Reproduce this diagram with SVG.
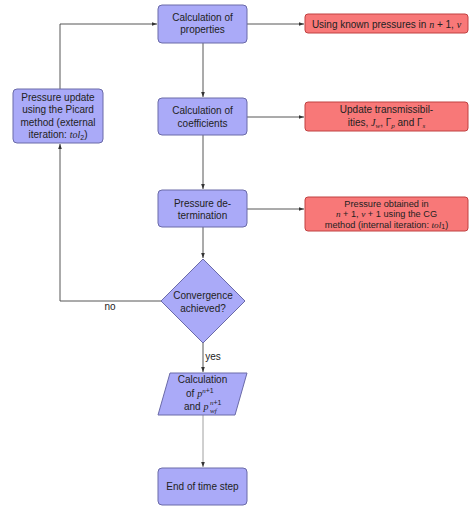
<svg xmlns="http://www.w3.org/2000/svg" width="474" height="512" viewBox="0 0 474 512">
<defs>
<marker id="ah" viewBox="0 0 6 6" refX="6" refY="3" markerWidth="5" markerHeight="5" orient="auto" markerUnits="userSpaceOnUse">
<path d="M0,0.8 L6,3 L0,5.2 Z" fill="#333"/>
</marker>
<style>
.b{fill:#aaaaf8;stroke:#6a6aa8;stroke-width:1}
.r{fill:#f87878;stroke:#c04040;stroke-width:1}
text{font-family:"Liberation Sans",Arial,sans-serif;font-size:10px;fill:#222;text-anchor:middle}
.l{text-anchor:start}
.t{font-size:9.2px}
.m{font-family:"Liberation Serif","Times New Roman",serif;font-style:italic}
.s{font-size:7px}
.c{fill:none;stroke:#444;stroke-width:0.9}
.g{fill:none;stroke:#888;stroke-width:0.8}
</style>
</defs>
<rect width="474" height="512" fill="#fff"/>
<g id="connectors">
<path class="c" d="M203,43 V97" marker-end="url(#ah)"/>
<path class="c" d="M203,135 V189" marker-end="url(#ah)"/>
<path class="c" d="M203,227 V258" marker-end="url(#ah)"/>
<path class="c" d="M203,343 V372" marker-end="url(#ah)"/>
<path class="g" d="M203,415 V467" marker-end="url(#ah)"/>
<path class="c" d="M247,24 H304" marker-end="url(#ah)"/>
<path class="c" d="M247,117 H304" marker-end="url(#ah)"/>
<path class="c" d="M247,209 H304" marker-end="url(#ah)"/>
<path class="c" d="M161,301 H60 V144" marker-end="url(#ah)"/>
<path class="c" d="M60,89 V24 H157" marker-end="url(#ah)"/>
<text x="110" y="310">no</text>
<text x="213" y="360">yes</text>
</g>
<g id="n-properties">
<rect class="b" x="158" y="5" width="89" height="38" rx="4"/>
<text x="202.5" y="20.5">Calculation of</text>
<text x="202.5" y="33">properties</text>
</g>
<g id="n-known">
<rect class="r" x="305" y="14" width="163" height="19" rx="3"/>
<text x="386.5" y="27.5">Using known pressures in <tspan class="m">n</tspan> + 1, <tspan class="m">v</tspan></text>
</g>
<g id="n-coefficients">
<rect class="b" x="158" y="98" width="89" height="37" rx="4"/>
<text x="202.5" y="114">Calculation of</text>
<text x="202.5" y="126.5">coefficients</text>
</g>
<g id="n-transmiss">
<rect class="r" x="305" y="102" width="163" height="29" rx="3"/>
<text x="386.5" y="113">Update transmissibil-</text>
<text x="386.5" y="125.5">ities, <tspan class="m">J</tspan><tspan class="m s" dy="2">w</tspan><tspan dy="-2">, Γ</tspan><tspan class="m s" dy="2">p</tspan><tspan dy="-2"> and Γ</tspan><tspan class="m s" dy="2">s</tspan></text>
</g>
<g id="n-pressure">
<rect class="b" x="158" y="190" width="89" height="37" rx="4"/>
<text x="202.5" y="206.5">Pressure de-</text>
<text x="202.5" y="218.5">termination</text>
</g>
<g id="n-cg">
<rect class="r" x="305" y="197" width="163" height="34" rx="3"/>
<text class="t" x="386.5" y="206.5">Pressure obtained in</text>
<text class="t" x="386.5" y="217.3"><tspan class="m">n</tspan> + 1, <tspan class="m">v</tspan> + 1 using the CG</text>
<text class="t" x="386.5" y="228">method (internal iteration: <tspan class="m">tol</tspan><tspan class="s" dy="1">1</tspan><tspan dy="-1">)</tspan></text>
</g>
<g id="n-picard">
<rect class="b" x="13" y="89" width="90" height="54" rx="4"/>
<text x="58" y="100.5">Pressure update</text>
<text x="58" y="113">using the Picard</text>
<text x="58" y="125.5">method (external</text>
<text x="58" y="138">iteration: <tspan class="m">tol</tspan><tspan class="s" dy="2">2</tspan><tspan dy="-2">)</tspan></text>
</g>
<g id="n-convergence">
<polygon class="b" points="203,259 245,301 203,343 161,301"/>
<text x="203" y="299">Convergence</text>
<text x="203" y="312">achieved?</text>
</g>
<g id="n-calcp">
<polygon class="b" points="170,373 247,373 235,415 158,415"/>
<text x="202.5" y="382.5">Calculation</text>
<text class="l" x="186" y="396.5">of <tspan class="m">p</tspan><tspan class="m s" dy="-4">n</tspan><tspan class="s">+1</tspan></text>
<text class="l" x="184" y="410">and <tspan class="m">p</tspan></text>
<text class="l m s" x="210" y="412.5">wf</text>
<text class="l s" x="210" y="405"><tspan class="m">n</tspan>+1</text>
</g>
<g id="n-end">
<rect class="b" x="158" y="468" width="89" height="37" rx="4"/>
<text x="202.5" y="490">End of time step</text>
</g>
</svg>
